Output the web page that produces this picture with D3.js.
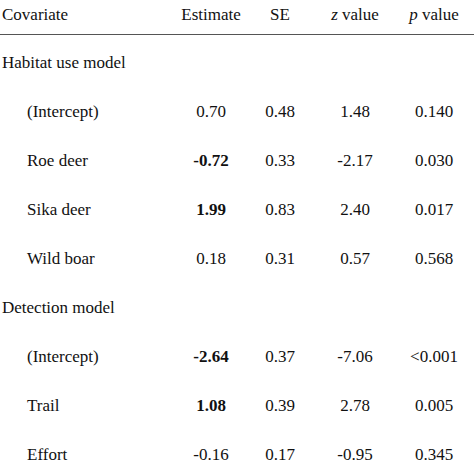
<!DOCTYPE html>
<html><head><meta charset="utf-8">
<script src="https://cdn.jsdelivr.net/npm/d3@7"></script>
<style>body{margin:0;background:#fff}</style>
</head><body>
<script>
// table content
const rowLabels = ["Habitat use model", "(Intercept)", "Roe deer", "Sika deer", "Wild boar",
                   "Detection model", "(Intercept)", "Trail", "Effort"];
const isGroup = [true, false, false, false, false, true, false, false, false];
const estimate = ["", "0.70", "-0.72", "1.99", "0.18", "", "-2.64", "1.08", "-0.16"];
const boldEst = [false, false, true, true, false, false, true, true, false];
const se = ["", "0.48", "0.33", "0.83", "0.31", "", "0.37", "0.39", "0.17"];
const zval = ["", "1.48", "-2.17", "2.40", "0.57", "", "-7.06", "2.78", "-0.95"];
const pval = ["", "0.140", "0.030", "0.017", "0.568", "", "<0.001", "0.005", "0.345"];

const W = 474, H = 467;
const svg = d3.select("body").append("svg").attr("width", W).attr("height", H)
  .style("font-family", "'Liberation Serif', 'Times New Roman', serif")
  .style("font-size", "17px").attr("fill", "#111");

const colX = [211, 280, 355, 434];
const y = d3.scaleLinear().domain([0, rowLabels.length - 1]).range([68, 460]);

// header
const hdr = svg.append("g").attr("transform", "translate(0,20)");
hdr.append("text").attr("x", 2).text("Covariate");
hdr.append("text").attr("x", colX[0]).attr("text-anchor", "middle").text("Estimate");
hdr.append("text").attr("x", colX[1]).attr("text-anchor", "middle").text("SE");
const zt = hdr.append("text").attr("x", colX[2]).attr("text-anchor", "middle");
zt.append("tspan").style("font-style", "italic").text("z");
zt.append("tspan").text(" value");
const pt = hdr.append("text").attr("x", colX[3]).attr("text-anchor", "middle");
pt.append("tspan").style("font-style", "italic").text("p");
pt.append("tspan").text(" value");

svg.append("line").attr("x1", 0).attr("x2", W).attr("y1", 34.5).attr("y2", 34.5)
  .attr("stroke", "#555").attr("stroke-width", 1.2);

const rows = svg.selectAll("g.row").data(d3.range(rowLabels.length)).join("g")
  .attr("class", "row").attr("transform", i => `translate(0,${y(i)})`);

rows.append("text").attr("x", i => isGroup[i] ? 2 : 27).text(i => rowLabels[i]);
[estimate, se, zval, pval].forEach((col, c) => {
  rows.append("text").attr("x", colX[c]).attr("text-anchor", "middle")
    .style("font-weight", i => c === 0 && boldEst[i] ? "bold" : null)
    .text(i => col[i]);
});
</script>
</body></html>
